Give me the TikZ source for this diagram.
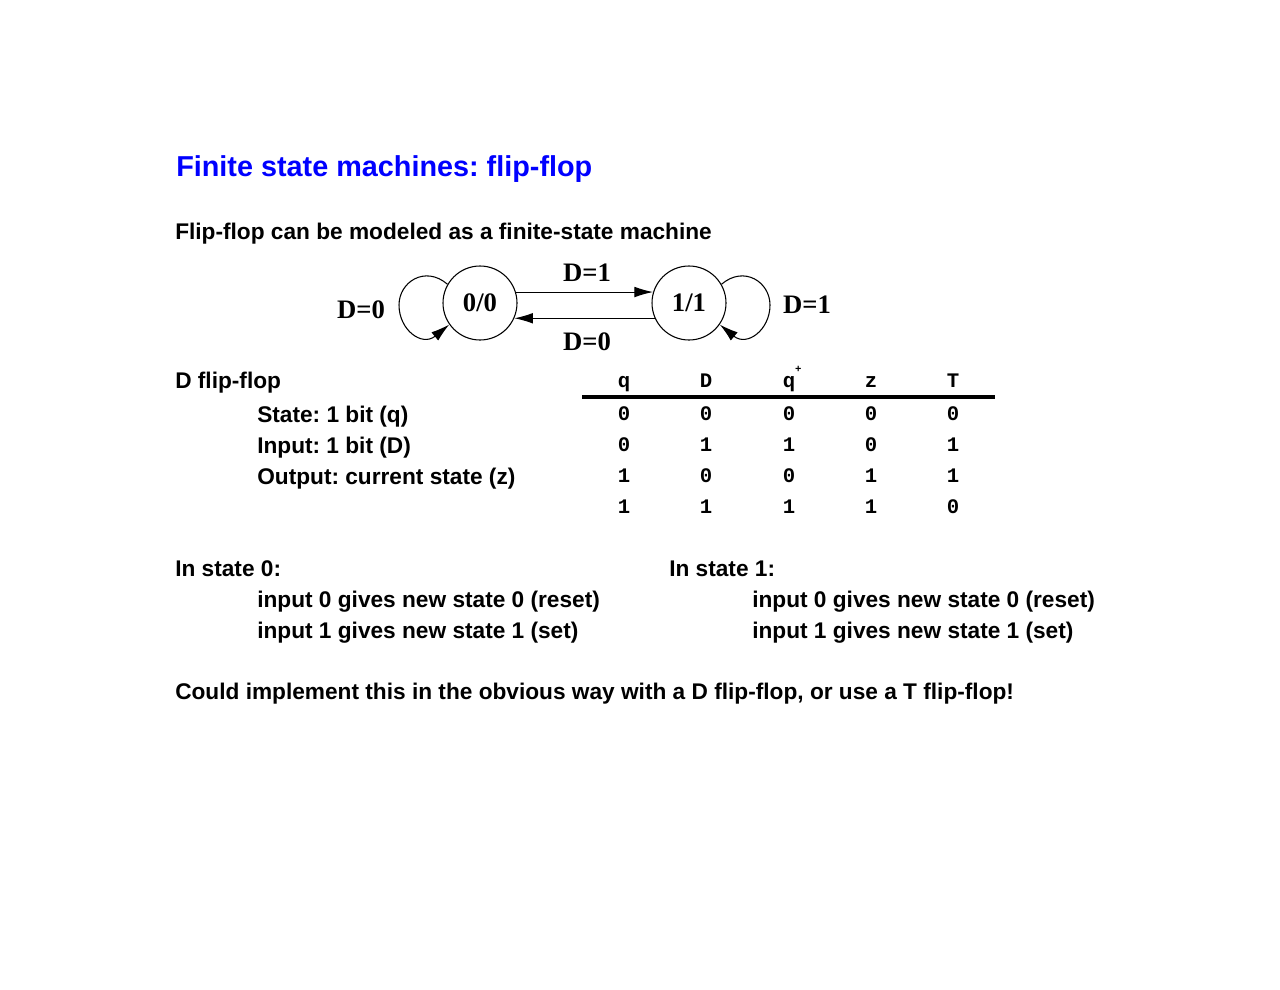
\documentclass[tikz,border=0pt]{standalone}
\usepackage{fontspec}
\setmainfont{Liberation Sans}
\newfontfamily\serifb{Liberation Serif}
\newfontfamily\monob{Liberation Mono}
\usetikzlibrary{arrows.meta}
\frenchspacing
\begin{document}
\begin{tikzpicture}[x=0.75pt,y=-0.75pt,
  txt/.style={anchor=base west,inner sep=0pt,font=\fontsize{17}{20}\selectfont\bfseries},
  ttl/.style={anchor=base west,inner sep=0pt,font=\fontsize{21.6}{25}\selectfont\bfseries,text=blue},
  lbl/.style={anchor=base,inner sep=0pt,font=\fontsize{20}{22}\selectfont\serifb\bfseries},
  state/.style={draw,circle,minimum size=55.5pt,inner sep=0pt,line width=0.8pt,font=\fontsize{20}{22}\selectfont\serifb\bfseries},
  cell/.style={anchor=base,inner sep=0pt,font=\fontsize{15.5}{17}\selectfont\monob\bfseries},
  arr/.style={line width=0.8pt,-{Latex[length=14pt,width=8pt]}}]
\useasboundingbox[fill=white] (0,0) rectangle (1280,989);
% title and intro
\node[ttl] (title) at (176,176) {Finite state machines: flip-flop};
\node[txt] (intro) at (175,239) {Flip-flop can be modeled as a finite-state machine};
% state diagram
\node[state] (s0) at (480,303) {0/0};
\node[state] (s1) at (689,303) {1/1};
\draw[arr] (s0.17) -- (s1.163);
\draw[arr] (s1.204) -- (s0.-24);
\draw[arr] (s0.150) .. controls (425,265) and (399,282) .. (399,305) .. controls (399,330) and (422,347) .. (s0.215);
\draw[arr] (s1.30) .. controls (744,265) and (770,282) .. (770,305) .. controls (770,330) and (747,347) .. (s1.-35);
\node[lbl] (l01) at (587,281) {D=1};
\node[lbl] (l10) at (587,350) {D=0};
\node[lbl] (l00) at (361,318) {D=0};
\node[lbl] (l11) at (807,313) {D=1};
% left text
\node[txt] (dff) at (175,388) {D flip-flop};
\node[txt] (st) at (257,422) {State: 1 bit (q)};
\node[txt] (in) at (257,453) {Input: 1 bit (D)};
\node[txt] (out) at (257,484) {Output: current state (z)};
% table
\node[cell] (hq) at (624,387) {q};
\node[cell] (hd) at (706,387) {D};
\node[cell] (hqp) at (789,387) {q\rlap{\raisebox{1.3ex}{\fontsize{8}{8}\selectfont +}}};
\node[cell] (hz) at (871,387) {z};
\node[cell] (ht) at (953,387) {T};
\coordinate (rl) at (582,397);
\coordinate (rr) at (995,397);
\draw[line width=2.6pt] (rl) -- (rr);
\foreach \y/\a/\b/\c/\d/\e in {420/0/0/0/0/0,451/0/1/1/0/1,482/1/0/0/1/1,513/1/1/1/1/0}{
  \node[cell] at (624,\y) {\a};
  \node[cell] at (706,\y) {\b};
  \node[cell] at (789,\y) {\c};
  \node[cell] at (871,\y) {\d};
  \node[cell] at (953,\y) {\e};
}
% state descriptions
\node[txt] (is0) at (175,576) {In state 0:};
\node[txt] (is0a) at (257,607) {input 0 gives new state 0 (reset)};
\node[txt] (is0b) at (257,638) {input 1 gives new state 1 (set)};
\node[txt] (is1) at (669,576) {In state 1:};
\node[txt] (is1a) at (752,607) {input 0 gives new state 0 (reset)};
\node[txt] (is1b) at (752,638) {input 1 gives new state 1 (set)};
\node[txt] (could) at (175,699) {Could implement this in the obvious way with a D flip-flop, or use a T flip-flop!};
\end{tikzpicture}
\end{document}
